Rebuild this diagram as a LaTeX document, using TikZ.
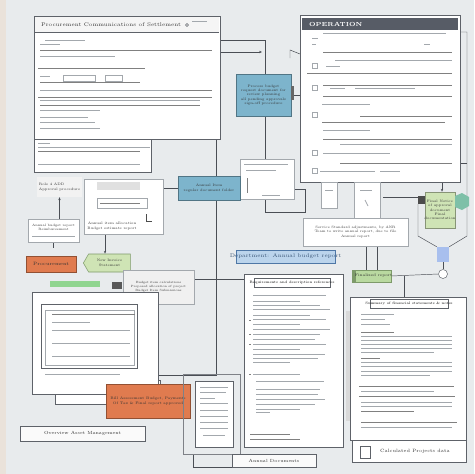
\documentclass[tikz,border=0pt]{standalone}
\usetikzlibrary{fit,shapes.symbols,arrows.meta}
\definecolor{bgcol}{HTML}{E8EBED}
\definecolor{edgecol}{HTML}{5E6269}
\definecolor{wirecol}{HTML}{4A4E55}
\definecolor{ruled}{HTML}{A3A8AD}
\definecolor{tealblue}{HTML}{7DB4CC}
\definecolor{skyfill}{HTML}{BBD4EC}
\definecolor{skyedge}{HTML}{4E77A6}
\definecolor{rust}{HTML}{E07B4F}
\definecolor{sage}{HTML}{CFE4B5}
\definecolor{sagedeep}{HTML}{B9D9A0}
\definecolor{sageedge}{HTML}{7D9A6A}
\definecolor{slatehead}{HTML}{575C66}
\definecolor{hexteal}{HTML}{7EC0A8}
\pgfdeclarelayer{bg}
\pgfdeclarelayer{wires}
\pgfsetlayers{bg,wires,main}

\begin{document}
\begin{tikzpicture}[x=0.03cm,y=-0.03cm,
	sheet/.style={draw=edgecol,fill=white,line width=.5pt,inner sep=0pt},
	panel/.style={draw=#1!65!black,fill=#1,line width=.45pt,inner sep=0pt},
	wire/.style={draw=wirecol,line width=.4pt},
	rule/.style={draw=ruled,line width=.6pt},
	darkrule/.style={draw=black!50,line width=.6pt},
	smalltext/.style={font=\fontsize{3}{3.7}\selectfont,text=black!80,align=center},
	arrowed/.style={-{Stealth[length=2.5pt,width=2pt]}}]
	\useasboundingbox (0,0) rectangle (474,474);
	\begin{pgfonlayer}{bg}
		\fill[bgcol] (0,0) rectangle (474,474);
		\fill[orange!8!bgcol] (0,0) rectangle (6,474);
	\end{pgfonlayer}

	% top left sheet
	\node[sheet,fit={(34,139)(151,172)}] (docAx) {};
	\node[sheet,fit={(34,16)(220,139)}] (docA) {};
	\node[fill=black!4,inner sep=0pt,fit={(35,17)(219,32)}] (docAhead) {};
	\node[anchor=west,font=\fontsize{4.5}{5.4}\selectfont,text=black!80] (docAtitle) at (37,24.5) {Procurement Communications of Settlement};
	\draw[edgecol,line width=.8pt] (docAhead.south west) -- (docAhead.south east);
	\draw[edgecol] (187,25) circle (1.5);
	\draw[ruled,line width=.8pt] (192,21) -- (207,21);
	\foreach \y/\a/\b in {40/45/85,44/40/60,56/40/115,76/40/50,90/40/180,100/40/200,110/40/100,117/40/88,122/40/95,128/40/100,143/38/50,147/38/150,164/38/140}
		\draw[rule] (\a,\y) -- (\b,\y);
	\foreach \y/\a/\b in {50/40/212,68/38/145,82/40/140,90/180/212,97/38/212,105/40/200,151/38/140}
		\draw[darkrule] (\a,\y) -- (\b,\y);
	\draw[ruled] (63,75) rectangle (95,81);
	\draw[ruled] (105,75) rectangle (122,81);

	% top right sheet
	\node[sheet,fit={(300,15)(460,182)}] (docB) {};
	\node[fill=slatehead,inner sep=0pt,fit={(302,18)(458,30)}] (docBhead) {};
	\node[anchor=west,font=\fontsize{5}{6}\selectfont\bfseries,text=white] (docBtitle) at (305,24) {OPERATION};
	\foreach \y/\a/\b in {52/323/452,73/307/452,85/323/452,96/323/452,116/360/452,122/322/445,139/323/452,163/340/452}
		\draw[darkrule] (\a,\y) -- (\b,\y);
	\foreach \y/\a/\b in {33/323/446,38/312/318,44/312/316,44/424/430,60/335/452,66/326/340,88/330/345,88/355/415,104/322/370,130/323/370,144/340/452,153/323/390,171/320/375,171/380/400}
		\draw[rule] (\a,\y) -- (\b,\y);
	\foreach \y in {63,85,112,150,168}
		\draw[ruled] (312,\y) rectangle ++(5,5);

	% blue panels
	\node[panel=tealblue,fit={(236,74)(291,116)}] (blueA) {};
	\node[smalltext] (blueAtext) at (blueA.center) {Process budget\\request document for\\review planning\\all pending approvals\\sign-off procedure};
	\fill[black!60] (291,86) rectangle (294,100);
	\node[sheet,draw=ruled,fit={(240,159)(294,199)}] (boxP) {};
	\foreach \y/\a/\b in {164/244/288,170/246/276,195/262/280}
		\draw[rule] (\a,\y) -- (\b,\y);
	\draw[darkrule] (247,178) -- (247,193);
	\node[panel=tealblue,fit={(178,176)(240,200)}] (blueB) {};
	\node[smalltext] (blueBtext) at (blueB.center) {Annual Item\\regular document folder};

	% left column
	\node[fill=black!5,inner sep=0pt,fit={(37,177)(82,197)}] (roleBox) {};
	\node[smalltext,align=left] (roleText) at (roleBox.center) {Role 4 ADD\\Approval procedure};
	\node[sheet,draw=ruled,fit={(28,219)(79,242)}] (noteD) {};
	\node[smalltext,font=\fontsize{2.8}{3.5}\selectfont] (noteDtext) at (53.5,227) {Annual budget report\\Reimbursement};
	\draw[rule] (32,236) -- (75,236);
	\node[sheet,draw=ruled,fit={(84,179)(163,234)}] (docC) {};
	\fill[black!12] (97,182) rectangle (140,190);
	\draw[ruled] (97,198) rectangle (147,208);
	\draw[darkrule] (100,203) -- (140,203);
	\draw[black!70] (146,214) -- (146,221) -- (152,221);
	\node[smalltext] (docCtext) at (112,226) {Annual item allocation\\Budget estimate report};
	\node[panel=rust,fit={(26,256)(76,272)}] (procBox) {};
	\node[font=\fontsize{4}{5}\selectfont,text=black!80] (procText) at (procBox.center) {Procurement};
	\node[signal,signal to=west,signal pointer angle=120,fill=sage,draw=sageedge,line width=.45pt,minimum width=14.1mm,minimum height=5.4mm,inner sep=0pt,smalltext] (newInv) at (109.5,263) {New Invoice\\Statement};
	\node[fill=black!6,draw=ruled,inner sep=0pt,line width=.45pt,fit={(123,270)(194,304)}] (boxE) {};
	\node[smalltext,font=\fontsize{2.6}{3.4}\selectfont] (boxEtext) at (boxE.center) {Budget item calculations\\Proposed allocation of project\\Budget Item Submissions};
	\fill[green!45!gray!60] (50,281) rectangle (100,287);
	\fill[black!65] (112,282) rectangle (122,289);

	% lower left sheets
	\node[sheet,fit={(55,380)(160,404)}] (docFx) {};
	\node[sheet,fit={(32,292)(158,394)}] (docF) {};
	\draw[edgecol] (41,304) rectangle (137,368);
	\draw[ruled] (45,310) rectangle (134,365);
	\draw[darkrule] (52,314) -- (135,314);
	\foreach \y/\a/\b in {322/52/90,330/52/130,343/52/130,356/52/130,374/45/120}
		\draw[rule] (\a,\y) -- (\b,\y);
	\node[panel=rust,fit={(106,384)(190,418)}] (orangeB) {};
	\node[smalltext,font=\fontsize{3.1}{4.2}\selectfont] (orangeBtext) at (orangeB.center) {Bill Assessment Budget, Payments\\Of Tax \& Final report approved};
	\node[draw=edgecol!80,inner sep=0pt,fit={(183,374)(240,454)}] (frameG) {};
	\node[sheet,fit={(195,381)(233,447)}] (docG) {};
	\foreach \y/\a/\b in {387/200/228,392/200/226,398/200/215,403/200/228,410/200/228,416/200/228,422/200/228,428/200/228,435/203/225}
		\draw[rule] (\a,\y) -- (\b,\y);
	\node[fill=black!2,draw=edgecol,inner sep=0pt,line width=.45pt,fit={(20,426)(145,441)}] (labelH) {};
	\node[font=\fontsize{3.8}{4.6}\selectfont,text=black!80] (labelHtext) at (labelH.center) {Overview Asset Management};

	% middle sheet
	\node[fill=skyfill,draw=skyedge,line width=.6pt,inner sep=0pt,fit={(236,250)(335,263)}] (deptBox) {};
	\node[font=\fontsize{4.5}{5}\selectfont,text=skyedge!70!black] (deptText) at (deptBox.center) {Department: Annual budget report};
	\node[sheet,fit={(244,274)(343,447)}] (docI) {};
	\node[sheet,fit={(254,278)(330,287)}] (docIhead) {};
	\node[font=\fontsize{3}{3.5}\selectfont] (docIheadtext) at (docIhead.center) {Requirements and description references};
	\foreach \y/\a/\b in {295/253/326,301/253/300,305/253/320,309/253/330,315/253/310,319/253/326,324/253/300,329/253/330,334/253/320,339/253/315,344/253/326,349/253/300,354/253/325,358/253/318,362/253/290,374/253/300,381/256/324,389/256/320,394/256/318,399/256/325,404/256/315,409/256/300,412/256/270}
		\draw[rule] (\a,\y) -- (\b,\y);
	\foreach \y/\a/\b in {320/249/251,334/249/251,344/249/251,374/249/251,434/250/290,439/250/300}
		\draw[darkrule] (\a,\y) -- (\b,\y);

	% right sheet
	\fill[black!15] (346,311) rectangle (350,421);
	\node[sheet,fit={(350,297)(466,440)}] (docJ) {};
	\node[sheet,fit={(370,299)(448,308)}] (docJhead) {};
	\node[font=\fontsize{3}{3.5}\selectfont] (docJheadtext) at (docJhead.center) {Summary of financial statements \& notes};
	\foreach \y/\a/\b in {314/361/394,319/361/385,324/361/390,336/361/452,340/361/452,344/361/452,348/361/452,352/361/434,362/361/452,366/361/452,371/361/452,375/361/430,391/361/434,402/361/452,406/361/452,427/361/452}
		\draw[rule] (\a,\y) -- (\b,\y);
	\foreach \y/\a/\b in {332/361/394,358/361/380,386/359/454,396/359/455,411/361/414,422/361/457}
		\draw[darkrule] (\a,\y) -- (\b,\y);
	\node[sheet,fit={(352,440)(466,462)}] (docJfoot) {};
	\draw[edgecol] (360,446) rectangle (370,458);
	\node[font=\fontsize{4}{5}\selectfont,text=black!80] (docJfoottext) at (415,451) {Calculated Projects data};
	\node[fill=sagedeep,draw=sageedge,inner sep=0pt,fit={(352,270)(391,282)}] (finalBox) {};
	\fill[sageedge] (352,270) rectangle (356,282);
	\node[font=\fontsize{3.3}{4}\selectfont,text=black!80] (finalText) at (373.5,276) {Finalized report};
	\node[panel=sage,fit={(425,192)(455,228)}] (greenL) {};
	\node[smalltext] (greenLtext) at (greenL.center) {Final Notice\\of approval\\document\\Final\\documentation};
	\fill[hexteal] (455,196) -- (462,193) -- (469,197) -- (469,206) -- (462,210) -- (455,207) -- cycle;
	\fill[black!70] (418,196) rectangle (425,204);
	\node[fill=skyfill!90!blue,inner sep=0pt,fit={(437,247)(449,262)}] (blueSq) {};
	\node[circle,draw=edgecol,fill=white,minimum size=2.7mm,inner sep=0pt] (circ) at (443,274) {};
	\node[sheet,draw=ruled,fit={(303,218)(408,246)}] (noteM) {};
	\node[smalltext,font=\fontsize{2.9}{3.6}\selectfont] (noteMtext) at (noteM.center) {Service Standard adjustments, by ANR\\Team to write annual report, due to file\\Annual report};
	\node[sheet,draw=ruled,fit={(321,182)(337,208)}] (pieceA) {};
	\node[sheet,draw=ruled,fit={(354,182)(380,218)}] (pieceB) {};
	\draw[rule] (325,190) -- (333,190);
	\draw[rule] (360,190) -- (372,190);
	\draw[rule] (365,200) -- (368,206);

	% connectors
	\begin{pgfonlayer}{wires}
		\coordinate (j1) at (265,40);
		\draw[wire] (docA.east|-j1) -- (j1) -- (j1|-blueA.north);
		\coordinate (j2) at (262,52);
		\draw[wire,arrowed] (docA.east|-j2) -- (j2);
		\draw[wire] (blueA.east) -- (docB.west|-blueA.east);
		\coordinate (j3) at (290,58);
		\coordinate (j4) at (300,54);
		\draw[wire] (j3) -- ++(0,-8) -- (j4);
		\coordinate (j5) at (265,212);
		\coordinate (j6) at (305,189);
		\draw[wire] (blueA.south-|j5) -- (j5) -| (j6) -- (j6-|j5);
		\coordinate (j7) at (216,375);
		\draw[wire] (docA.south-|j7) -- (j7) -- (docF.east|-j7);
		\draw[wire] (blueB.west) -- (docC.east|-blueB.west);
		\draw[wire,arrowed] (noteD.north-|roleBox.south) -- (roleBox.south);
		\draw[wire] (noteD.south) -- ++(0,6);
		\coordinate (j8) at (105,240);
		\draw[wire,arrowed] (docC.south-|j8) -- (newInv.north-|j8);
		\coordinate (j9) at (145,332);
		\draw[wire,arrowed] (boxE.south-|j9) -- (j9);
		\coordinate (j10) at (220,279);
		\draw[wire] (boxE.east|-j10) -- (docI.west|-j10);
		\foreach \x in {366,377} {
			\coordinate (k) at (\x,247);
			\draw[wire] (k) -- (k|-finalBox.north);
		}
		\draw[wire] (finalBox.east) -- (circ.west);
		\coordinate (j11) at (404,276);
		\draw[wire] (j11) -- (j11|-docJ.north);
		\draw[wire] (blueSq.south) -- (circ.north);
		\coordinate (j12) at (442,184);
		\draw[wire,arrowed] (docB.south-|j12) -- (j12|-greenL.north);
		\coordinate (j13) at (383,197);
		\draw[wire] (j13) -- (j13-|greenL.west);
		\coordinate (fr1) at (467,32);
		\coordinate (fr2) at (467,236);
		\coordinate (fr3) at (467,163);
		\draw[wire] (docB.east|-fr1) -- (fr1) -- (fr2) -- (blueSq.north east);
		\draw[wire] (docB.east|-fr3) -- (fr3);
		\coordinate (j14) at (418,204);
		\draw[wire] (j14) -- ++(0,32) -- (blueSq.north west);
		\coordinate (j15) at (193,454);
		\draw[wire] (j15) -- ++(0,13) -- ++(67,0);
	\end{pgfonlayer}
	\node[fill=black!2,draw=edgecol,inner sep=0pt,line width=.45pt,fit={(232,454)(316,467)}] (labelN) {};
	\node[font=\fontsize{3.8}{4.6}\selectfont,text=black!80] (labelNtext) at (labelN.center) {Annual Documents};
\end{tikzpicture}
\end{document}
